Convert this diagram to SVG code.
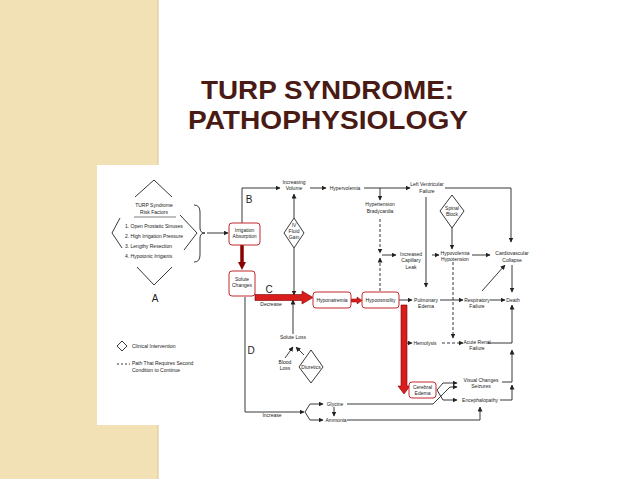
<svg xmlns="http://www.w3.org/2000/svg" width="638" height="479" viewBox="0 0 638 479">
<style>
.t{font-family:"Liberation Sans",Arial,sans-serif;font-size:5px;fill:#222;text-anchor:middle}
.tl{font-family:"Liberation Sans",Arial,sans-serif;font-size:5px;fill:#222}
.big{font-family:"Liberation Sans",Arial,sans-serif;font-size:10px;fill:#222;text-anchor:middle}
.ln{fill:none;stroke:#222;stroke-width:0.9}
.ar{fill:none;stroke:#222;stroke-width:0.9;marker-end:url(#ah)}
.da{fill:none;stroke:#222;stroke-width:0.9;stroke-dasharray:3,2;marker-end:url(#ah)}
.box{fill:#fff;stroke:#c0282d;stroke-width:1}
.title{font-family:"Liberation Sans",Arial,sans-serif;font-weight:bold;font-size:25px;fill:#4a1a14}
</style>
<defs>
<marker id="ah" viewBox="0 0 10 10" refX="9" refY="5" markerWidth="5" markerHeight="5" orient="auto" markerUnits="userSpaceOnUse"><path d="M0,0L10,5L0,10z" fill="#222"/></marker>
</defs>
<rect width="638" height="479" fill="#fff"/>
<rect x="0" y="0" width="158" height="479" fill="#f1e1b5"/>
<line x1="158" y1="0" x2="158" y2="479" stroke="#d9c48e" stroke-width="1"/>
<text class="title" x="201" y="99" textLength="253" lengthAdjust="spacingAndGlyphs">TURP SYNDROME:</text>
<text class="title" x="188" y="129" textLength="280" lengthAdjust="spacingAndGlyphs">PATHOPHYSIOLOGY</text>
<rect x="97" y="165" width="435" height="260" fill="#fff"/>

<g id="connectors">
<path class="ar" d="M207,233H228"/>
<path class="ar" d="M242,223V188H280"/>
<path class="ar" d="M294,218V194"/>
<path class="ar" d="M294,248V295"/>
<path class="ar" d="M310,188H326"/>
<path class="ar" d="M364,188H410"/>
<path class="ar" d="M380,188V200"/>
<path class="da" d="M380,219V253"/>
<path class="da" d="M380,296V258"/>
<path class="ar" d="M382,255H396"/>
<path class="ar" d="M426,197V287"/>
<path class="ar" d="M445,188H511V242"/>
<path class="ar" d="M452,228V249"/>
<path class="ar" d="M432,255H439"/>
<path class="ar" d="M472,255H490"/>
<path class="ar" d="M512,265V292"/>
<path class="ar" d="M482,291L505,265"/>
<path class="ar" d="M399,300H412"/>
<path class="ar" d="M440,300H463"/>
<path class="ar" d="M490,300H505"/>
<path class="da" d="M453,262V338"/>
<path class="ar" d="M407,343H412"/>
<path class="da" d="M442,343H463"/>
<path class="ar" d="M488,343H512V305"/>
<path class="ar" d="M502,382H512V350"/>
<path class="ar" d="M500,400H512V385"/>
<path class="ar" d="M437,390L443,383H457"/>
<path class="ar" d="M437,390L443,400H457"/>
<path class="ar" d="M347,404H433L450,387H457"/>
<path class="ar" d="M347,420H480V407"/>
<path class="ar" d="M245,297V412H304"/>
<path class="ar" d="M305,412L310,404H323"/>
<path class="ar" d="M305,412L310,420H323"/>
<path class="ar" d="M334,407V416"/>
<path class="ar" d="M293,334V300"/>
<path class="ar" d="M285,358L293,347"/>
<path class="ar" d="M304,355L296,347"/>
<path d="M242,245V263" stroke="#8b0000" stroke-width="3.5" fill="none"/>
<path d="M238,262L242,270L246,262z" fill="#8b0000"/>
<path d="M255,294.5H302V291L313,297.5L302,304V300.5H255z" fill="#d91c1c" stroke="#7a0000" stroke-width="0.6"/>
<path d="M351,299H357V297L362,300.5L357,304V302H351z" fill="#d91c1c" stroke="#7a0000" stroke-width="0.5"/>
<path d="M401,305H407V386H410L404,394L398,386H401z" fill="#d91c1c" stroke="#7a0000" stroke-width="0.6"/>
</g>

<g id="nodeA">
<path class="ln" d="M135,197L154,180L172,197M120,218L112,233L122,248M180,215L197,233L184,250M137,267L154,285L172,267"/>
<text class="t" x="154" y="207">TURP Syndrome</text>
<text class="t" x="154" y="214">Risk Factors</text>
<line x1="134" y1="217" x2="176" y2="217" stroke="#222" stroke-width="0.6"/>
<text class="tl" x="125" y="228">1. Open Prostatic Sinuses</text>
<text class="tl" x="125" y="238">2. High Irrigation Pressure</text>
<text class="tl" x="125" y="248">3. Lengthy Resection</text>
<text class="tl" x="125" y="258">4. Hypotonic Irrigants</text>
<path class="ln" d="M194,205Q200,205 200,212V228Q200,233 205,233Q200,233 200,238V255Q200,262 194,262"/>
<text class="big" x="155" y="302">A</text>
</g>
<g id="labels">
<text class="big" x="249" y="203">B</text>
<text class="big" x="269" y="293">C</text>
<text class="big" x="251" y="354">D</text>
<text class="t" x="271" y="306">Decrease</text>
<text class="t" x="272" y="417">Increase</text>
</g>
<g id="irrigation"><rect class="box" x="229" y="223" width="31" height="22" rx="3"/><text class="t" x="244.5" y="232">Irrigation</text><text class="t" x="244.5" y="238">Absorption</text></g>
<g id="solute"><rect class="box" x="229" y="271" width="26" height="25" rx="3"/><text class="t" x="242" y="281">Solute</text><text class="t" x="242" y="287">Changes</text></g>
<g id="incvol"><text class="t" x="294" y="184">Increasing</text><text class="t" x="294" y="190">Volume</text></g>
<g id="ivfluid"><path class="ln" d="M294,218L304,233L294,248L284,233z"/><text class="t" x="294" y="227">IV</text><text class="t" x="294" y="233">Fluid</text><text class="t" x="294" y="239">Gain</text></g>
<g id="hypervol"><text class="t" x="345" y="190">Hypervolemia</text></g>
<g id="lvf"><text class="t" x="427" y="186">Left Ventricular</text><text class="t" x="427" y="193">Failure</text></g>
<g id="hypert"><text class="t" x="380" y="206">Hypertension</text><text class="t" x="380" y="213">Bradycardia</text></g>
<g id="capleak"><text class="t" x="411" y="256">Increased</text><text class="t" x="411" y="262">Capillary</text><text class="t" x="411" y="269">Leak</text></g>
<g id="spinal"><path class="ln" d="M452,195L464,211L452,228L440,211z"/><text class="t" x="452" y="210">Spinal</text><text class="t" x="452" y="216">Block</text></g>
<g id="hypovol"><text class="t" x="455" y="255">Hypovolemia</text><text class="t" x="455" y="261">Hypotension</text></g>
<g id="cvc"><text class="t" x="512" y="255">Cardiovascular</text><text class="t" x="512" y="262">Collapse</text></g>
<g id="hyponat"><rect class="box" x="313" y="292" width="38" height="16" rx="3"/><text class="t" x="332" y="302">Hyponatremia</text></g>
<g id="hypoosm"><rect class="box" x="362" y="292" width="37" height="16" rx="3"/><text class="t" x="380.5" y="302">Hypoosmolity</text></g>
<g id="pulm"><text class="t" x="426" y="302">Pulmonary</text><text class="t" x="426" y="308">Edema</text></g>
<g id="resp"><text class="t" x="477" y="302">Respiratory</text><text class="t" x="477" y="308">Failure</text></g>
<g id="death"><text class="t" x="513" y="302">Death</text></g>
<g id="hemo"><text class="t" x="425" y="345">Hemolysis</text></g>
<g id="arf"><text class="t" x="477" y="344">Acute Renal</text><text class="t" x="477" y="350">Failure</text></g>
<g id="cerebral"><rect class="box" x="409" y="382" width="27" height="16" rx="3"/><text class="t" x="422.5" y="389">Cerebral</text><text class="t" x="422.5" y="395">Edema</text></g>
<g id="visual"><text class="t" x="481" y="382">Visual Changes</text><text class="t" x="481" y="388">Seizures</text></g>
<g id="enceph"><text class="t" x="480" y="402">Encephalopathy</text></g>
<g id="glycine"><text class="t" x="335" y="406">Glycine</text></g>
<g id="ammonia"><text class="t" x="336" y="422">Ammonia</text></g>
<g id="soluteloss"><text class="t" x="293" y="339">Solute Loss</text></g>
<g id="blood"><text class="t" x="285" y="364">Blood</text><text class="t" x="285" y="370">Loss</text></g>
<g id="diuretics"><path class="ln" d="M311,350L323,367L311,383L299,367z"/><text class="t" x="311" y="369">Diuretics</text></g>
<g id="legend">
<path class="ln" d="M122,341L127,346L122,351L117,346z"/>
<text class="tl" x="132" y="348">Clinical Intervention</text>
<path class="ln" d="M117,364H130" stroke-dasharray="2,2"/>
<text class="tl" x="132" y="365">Path That Requires Second</text>
<text class="tl" x="132" y="372">Condition to Continue</text>
</g>
</svg>
